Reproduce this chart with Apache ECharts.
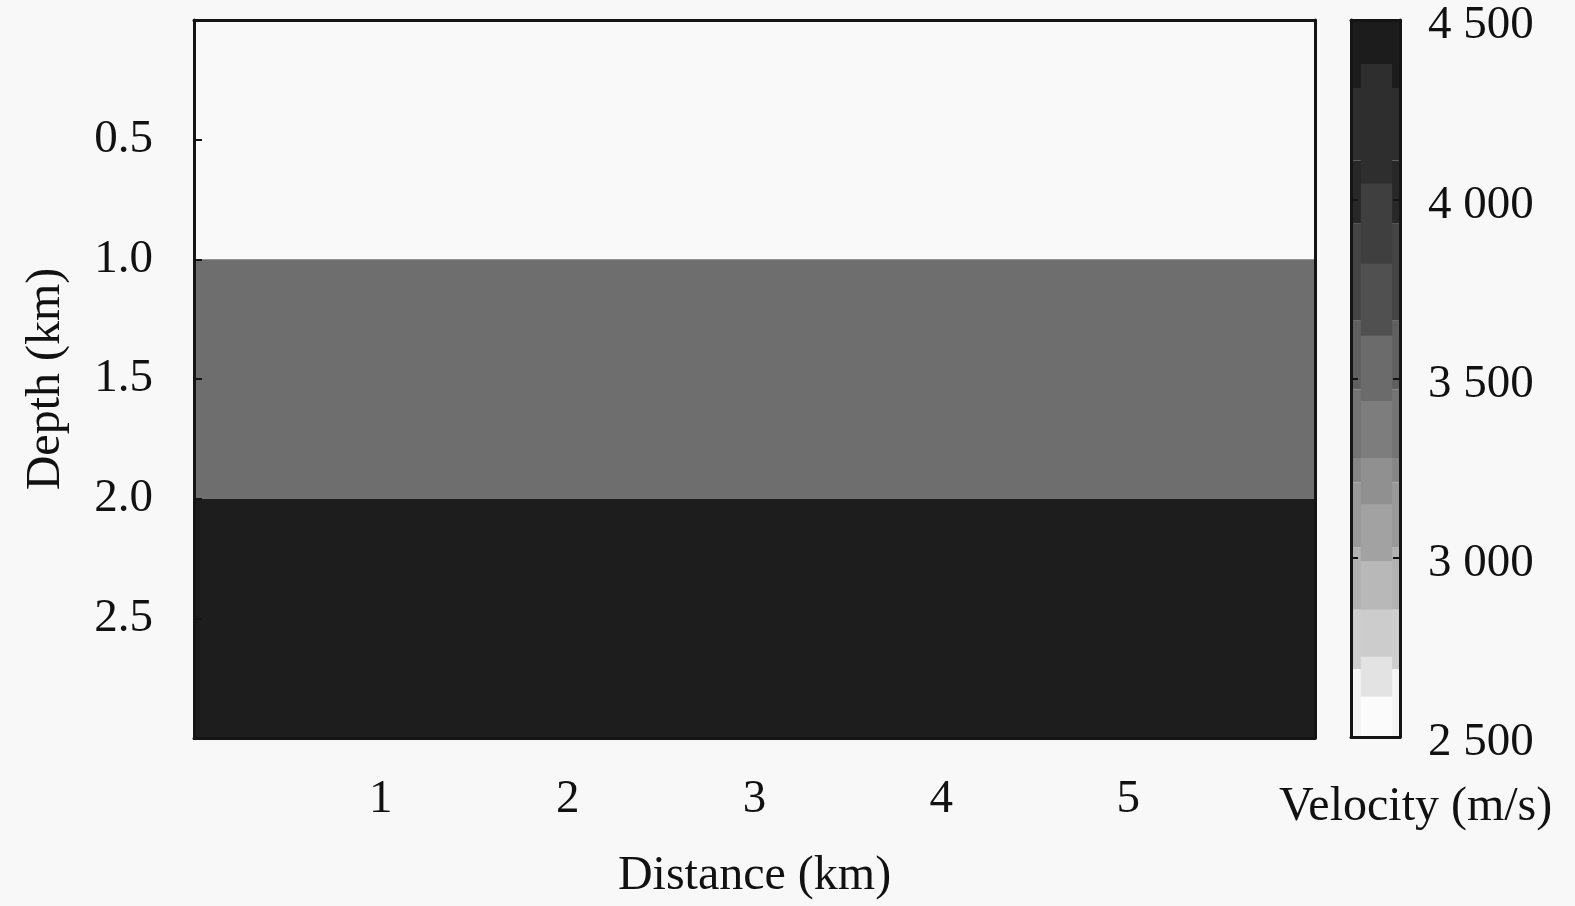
<!DOCTYPE html>
<html>
<head>
<meta charset="utf-8">
<script src="https://cdn.jsdelivr.net/npm/echarts@6/dist/echarts.min.js"></script>
<style>html,body{margin:0;padding:0;background:#f8f8f8;}#c{width:1575px;height:906px;}</style>
</head>
<body>
<div id="c"></div>
<script>
// ---- data ----
const distanceRange = [0, 6];            // km
const layerTops = [0, 1, 2];             // km
const layerBottoms = [1, 2, 3];          // km
const layerVelocity = [2500, 3500, 4500]; // m/s
const velocityTicks = [2500, 3000, 3500, 4000, 4500];
// colorbar bands (velocity edges top -> bottom) and their grey levels
const cbOuterEdges = [4500, 4310, 4108, 3932, 3661, 3470, 3278, 3210, 3030, 2855, 2690, 2500];
const cbOuterColors = ['#1c1c1c','#2e2e2e','#282828','#444444','#606060','#747474','#868686','#999999','#b2b2b2','#cecece','#f4f4f4'];
const cbInnerEdges = [4500, 4377, 4044, 3820, 3619, 3437, 3278, 3149, 2990, 2855, 2724, 2612, 2500];
const cbInnerColors = ['#1c1c1c','#2e2e2e','#3f3f3f','#505050','#6b6b6b','#7d7d7d','#909090','#a2a2a2','#b8b8b8','#cccccc','#e3e3e3','#fbfbfb'];

const FONT = '"Liberation Serif", "DejaVu Serif", serif';
const TXT = '#111111';

const layerData = layerVelocity.map((v, i) => [distanceRange[0], distanceRange[1], layerTops[i], layerBottoms[i], v]);
function bands(edges, colors, x0, x1) {
  return colors.map((c, i) => ({ value: [x0, x1, edges[i], edges[i + 1]], itemStyle: { color: c } }));
}
function rectItem(params, api) {
  const p0 = api.coord([api.value(0), api.value(2)]);
  const p1 = api.coord([api.value(1), api.value(3)]);
  return {
    type: 'rect',
    shape: { x: Math.min(p0[0], p1[0]), y: Math.min(p0[1], p1[1]), width: Math.abs(p1[0] - p0[0]), height: Math.abs(p1[1] - p0[1]) },
    style: { fill: api.visual('color') }
  };
}
const lineStyle = { color: '#141414', width: 3 };
const fmtV = v => '{v|' + String(v).replace(/(\d)(\d{3})$/, '$1 $2') + '}';
const frameAxis = (extra) => Object.assign({
  type: 'value', z: 10,
  axisLine: { show: true, onZero: false, lineStyle },
  axisTick: { show: false }, axisLabel: { show: false }, splitLine: { show: false }
}, extra);

const chart = echarts.init(document.getElementById('c'));
chart.setOption({
  backgroundColor: '#f8f8f8',
  animation: false,
  grid: [
    { left: 194, top: 20, width: 1121, height: 718 },
    { left: 1351, top: 20, width: 49, height: 717 }
  ],
  xAxis: [
    { gridIndex: 0, type: 'value', min: distanceRange[0], max: distanceRange[1], interval: 1, z: 10,
      axisLine: { show: true, onZero: false, lineStyle }, axisTick: { show: false }, splitLine: { show: false },
      axisLabel: { fontFamily: FONT, fontSize: 47, color: TXT, margin: 38,
        formatter: v => (v === 0 || v === 6) ? '' : String(v) },
      name: 'Distance (km)', nameLocation: 'middle', nameGap: 114,
      nameTextStyle: { fontFamily: FONT, fontSize: 48, color: TXT } },
    frameAxis({ gridIndex: 0, position: 'top', min: 0, max: 6 }),
    frameAxis({ gridIndex: 1, position: 'bottom', min: 0, max: 1 }),
    frameAxis({ gridIndex: 1, position: 'top', min: 0, max: 1 })
  ],
  yAxis: [
    { gridIndex: 0, type: 'value', inverse: true, min: 0, max: 3, interval: 0.5, z: 10,
      axisLine: { show: true, onZero: false, lineStyle }, splitLine: { show: false },
      axisTick: { show: true, inside: true, length: 8, lineStyle: { color: '#141414', width: 2 } },
      axisLabel: { fontFamily: FONT, fontSize: 47, color: TXT, margin: 41,
        formatter: v => (v === 0 || v === 3) ? '' : v.toFixed(1) },
      name: 'Depth (km)', nameLocation: 'middle', nameGap: 124, nameRotate: 90,
      nameTextStyle: { fontFamily: FONT, fontSize: 48, color: TXT } },
    frameAxis({ gridIndex: 0, position: 'right', inverse: true, min: 0, max: 3 }),
    { gridIndex: 1, type: 'value', position: 'right', min: velocityTicks[0], max: velocityTicks[velocityTicks.length - 1], interval: 500, z: 10,
      axisLine: { show: true, onZero: false, lineStyle }, splitLine: { show: false },
      axisTick: { show: true, inside: true, length: 7, lineStyle: { color: '#141414', width: 2 } },
      axisLabel: { fontFamily: FONT, fontSize: 47, color: TXT, margin: 28, showMinLabel: true, showMaxLabel: true,
        formatter: fmtV,
        rich: { v: { fontFamily: FONT, fontSize: 47, color: TXT, padding: [12, 0, 0, 0] } } } },
    { gridIndex: 1, type: 'value', position: 'left', min: 2500, max: 4500, interval: 500, z: 10,
      axisLine: { show: true, onZero: false, lineStyle }, splitLine: { show: false },
      axisTick: { show: true, inside: true, length: 7, lineStyle: { color: '#141414', width: 2 } },
      axisLabel: { show: false } }
  ],
  visualMap: {
    type: 'continuous', show: false, seriesIndex: 0, dimension: 4,
    min: 2500, max: 4500, inRange: { color: ['#f9f9f9', '#6e6e6e', '#1d1d1d'] }
  },
  graphic: [{
    type: 'text', left: 1279, top: 783,
    style: { text: 'Velocity (m/s)', font: '48px ' + FONT, fill: TXT }
  }],
  series: [
    { type: 'custom', xAxisIndex: 0, yAxisIndex: 0, renderItem: rectItem, data: layerData,
      encode: { x: [0, 1], y: [2, 3] }, clip: true },
    { type: 'custom', xAxisIndex: 2, yAxisIndex: 2, renderItem: rectItem,
      data: bands(cbOuterEdges, cbOuterColors, 0, 1), encode: { x: [0, 1], y: [2, 3] } },
    { type: 'custom', xAxisIndex: 2, yAxisIndex: 2, renderItem: rectItem,
      data: bands(cbInnerEdges, cbInnerColors, 0.2, 0.84), encode: { x: [0, 1], y: [2, 3] } }
  ]
});
</script>
</body>
</html>
